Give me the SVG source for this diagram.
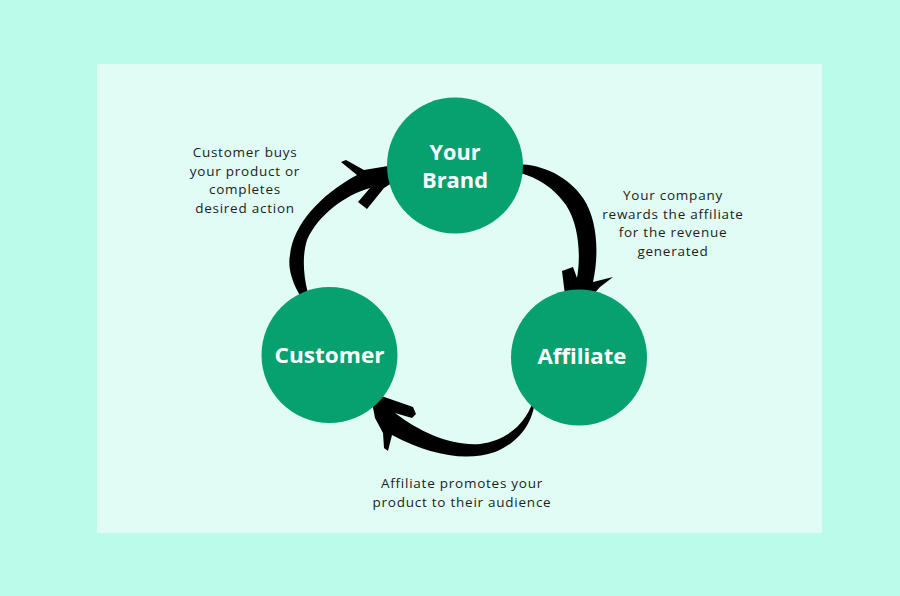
<svg xmlns="http://www.w3.org/2000/svg" width="900" height="596" viewBox="0 0 900 596">
<style>
.node{fill:#07a06f}
.nt{font-family:"Open Sans","Liberation Sans",sans-serif;font-weight:700;font-size:21px;fill:#fff;text-anchor:middle}
.lb{font-family:"Open Sans","Liberation Sans",sans-serif;font-size:13.5px;fill:#1c1c1c;text-anchor:middle;letter-spacing:0.75px}
.arr{fill:#000}
</style>
<rect width="900" height="596" fill="#bafbe9"/>
<rect x="97" y="64" width="725" height="469" fill="#e0fcf5"/>
<g id="connectors">
<path class="arr" d="M 318 319 C 300 300, 286 275, 290 255 C 293 225, 320 195, 357 175 L 341 162 L 346 160 L 364 170 L 388 166 L 403 176 L 384 188 L 367 209 L 358 202 L 370 188 C 345 195, 318 215, 307 240 C 300 262, 305 295, 318 319 Z"/>
<path class="arr" d="M 497 167 C 530 158, 565 172, 583 198 C 598 220, 599 255, 593 282 L 613 277 L 600 287 L 585 304 L 570 319 L 565 295 L 562 271 L 573 267 L 577 278 C 581 255, 579 225, 566 205 C 550 182, 525 170, 497 170 Z"/>
<path class="arr" d="M 535 393 C 536 420, 520 442, 495 452 C 465 462, 430 455, 392 435 L 388 451 L 384 448 L 383 433 L 375 418 L 370 392 L 413 407 L 416 414 L 412 418 L 395 413 C 420 432, 450 446, 480 444 C 510 440, 530 420, 535 393 Z"/>
</g>
<g id="brand">
<circle class="node" cx="455" cy="165.5" r="68"/>
<text class="nt" x="455" y="160" textLength="51" lengthAdjust="spacingAndGlyphs">Your</text>
<text class="nt" x="455" y="188" textLength="66" lengthAdjust="spacingAndGlyphs">Brand</text>
</g>
<g id="customer">
<circle class="node" cx="329.5" cy="355" r="68"/>
<text class="nt" x="329.5" y="363" textLength="110" lengthAdjust="spacingAndGlyphs">Customer</text>
</g>
<g id="affiliate">
<circle class="node" cx="579" cy="357.5" r="68"/>
<text class="nt" x="582" y="364" textLength="89" lengthAdjust="spacingAndGlyphs">Affiliate</text>
</g>
<g id="label-buy">
<text class="lb" x="245" y="157">Customer buys</text>
<text class="lb" x="245" y="176">your product or</text>
<text class="lb" x="245" y="194">completes</text>
<text class="lb" x="245" y="213">desired action</text>
</g>
<g id="label-reward">
<text class="lb" x="673" y="200">Your company</text>
<text class="lb" x="673" y="219">rewards the affiliate</text>
<text class="lb" x="673" y="237">for the revenue</text>
<text class="lb" x="673" y="256">generated</text>
</g>
<g id="label-promote">
<text class="lb" x="462" y="488">Affiliate promotes your</text>
<text class="lb" x="462" y="507">product to their audience</text>
</g>
</svg>
